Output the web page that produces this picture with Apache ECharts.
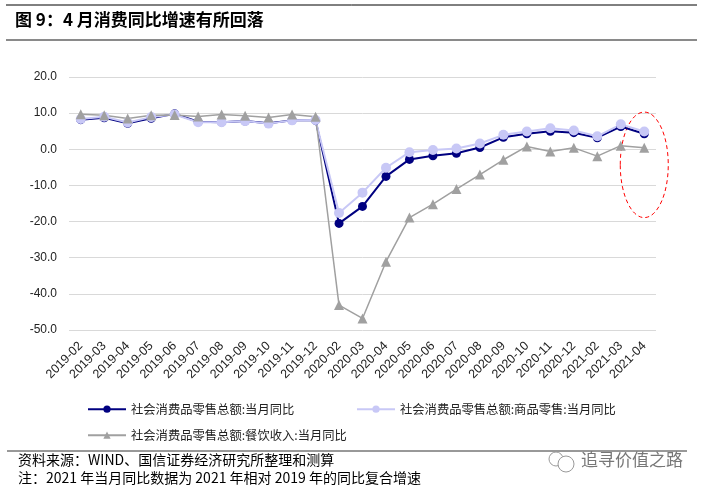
<!DOCTYPE html>
<html>
<head>
<meta charset="utf-8">
<script src="https://cdn.jsdelivr.net/npm/echarts@6/dist/echarts.min.js"></script>
<style>
  html, body { margin: 0; padding: 0; background: #fff; }
  #main { width: 704px; height: 493px; }
</style>
</head>
<body>
<div id="main"></div>
<script>
var months = ['2019-02', '2019-03', '2019-04', '2019-05', '2019-06', '2019-07', '2019-08', '2019-09',
  '2019-10', '2019-11', '2019-12', '2020-02', '2020-03', '2020-04', '2020-05', '2020-06', '2020-07',
  '2020-08', '2020-09', '2020-10', '2020-11', '2020-12', '2021-02', '2021-03', '2021-04'];

// 社会消费品零售总额:当月同比
var totalRetail = [8.2, 8.7, 7.2, 8.6, 9.8, 7.6, 7.5, 7.8, 7.2, 8.0, 8.0,
  -20.5, -15.8, -7.5, -2.8, -1.8, -1.1, 0.5, 3.3, 4.3, 5.0, 4.6, 3.2, 6.3, 4.3];
// 商品零售:当月同比
var goodsRetail = [8.4, 9.0, 7.4, 8.9, 9.6, 7.5, 7.5, 7.8, 7.1, 8.0, 8.1,
  -17.6, -12.0, -5.1, -0.8, -0.2, 0.2, 1.6, 4.0, 4.9, 5.8, 5.2, 3.6, 6.9, 4.9];
// 餐饮收入:当月同比
var catering = [9.7, 9.4, 8.5, 9.4, 9.5, 9.1, 9.6, 9.3, 8.8, 9.6, 9.0,
  -43.1, -46.8, -31.1, -18.9, -15.2, -11.0, -7.0, -2.9, 0.8, -0.6, 0.4, -1.9, 1.0, 0.4];

var seriesNames = ['社会消费品零售总额:当月同比', '社会消费品零售总额:商品零售:当月同比', '社会消费品零售总额:餐饮收入:当月同比'];

var dom = document.getElementById('main');
var myChart = echarts.init(dom, null, { renderer: 'canvas' });

var cjk = '"Noto Sans CJK SC", sans-serif';
var latin = 'Arial, "Liberation Sans", sans-serif';
var legendText = { fontFamily: cjk, fontSize: 12.3, color: '#222' };

var option = {
  animation: false,
  grid: { left: 69, right: 48, top: 77, bottom: 163 },
  xAxis: {
    type: 'category',
    data: months,
    boundaryGap: true,
    axisLine: { show: false },
    axisTick: { show: false },
    axisLabel: { rotate: 45, fontSize: 12.5, color: '#222', fontFamily: latin, margin: 14, interval: 0 }
  },
  yAxis: {
    type: 'value',
    min: -50, max: 20, interval: 10,
    axisLine: { show: false },
    axisTick: { show: false },
    splitLine: { lineStyle: { color: '#d9d9d9', width: 1 } },
    axisLabel: { fontSize: 12, color: '#222', fontFamily: latin, margin: 12,
      formatter: function (v) { return v.toFixed(1); } }
  },
  legend: [
    { left: 82, top: 398, itemWidth: 38, itemHeight: 9, textStyle: legendText, data: [seriesNames[0]] },
    { left: 351, top: 398, itemWidth: 38, itemHeight: 9, textStyle: legendText, data: [seriesNames[1]] },
    { left: 82, top: 424, itemWidth: 38, itemHeight: 9, textStyle: legendText, data: [seriesNames[2]] }
  ],
  series: [
    { name: seriesNames[0], type: 'line', data: totalRetail, symbol: 'circle', symbolSize: 9,
      lineStyle: { color: '#000080', width: 2 }, itemStyle: { color: '#000080' } },
    { name: seriesNames[1], type: 'line', data: goodsRetail, symbol: 'circle', symbolSize: 10,
      lineStyle: { color: '#c8c8f6', width: 2 }, itemStyle: { color: '#c8c8f6' } },
    { name: seriesNames[2], type: 'line', data: catering, symbol: 'triangle', symbolSize: 10,
      lineStyle: { color: '#a0a0a0', width: 1.5 }, itemStyle: { color: '#a0a0a0' } }
  ]
};

myChart.setOption(option);

// frame lines, title, notes and the red dashed ellipse round the latest readings
var ctr = myChart.convertToPixel({ seriesIndex: 0 }, ['2021-04', -4.3]);
var upper = myChart.convertToPixel({ seriesIndex: 0 }, ['2021-04', 10.3]);
var ry = ctr[1] - upper[1];

myChart.setOption({
  graphic: [
    { type: 'line', shape: { x1: 6, y1: 5, x2: 697, y2: 5 }, style: { stroke: '#000', lineWidth: 1 } },
    { type: 'text', left: 15, top: 11,
      style: { text: '图 9：4 月消费同比增速有所回落', font: 'bold 17px ' + cjk, fill: '#000' } },
    { type: 'line', shape: { x1: 6, y1: 40, x2: 697, y2: 40 }, style: { stroke: '#8a8a8a', lineWidth: 2 } },
    { type: 'line', shape: { x1: 7, y1: 451, x2: 687, y2: 451 }, style: { stroke: '#333', lineWidth: 1 } },
    { type: 'text', left: 18, top: 453,
      style: { text: '资料来源：WIND、国信证券经济研究所整理和测算', font: '14px ' + cjk, fill: '#000' } },
    { type: 'text', left: 18, top: 471,
      style: { text: '注：2021 年当月同比数据为 2021 年相对 2019 年的同比复合增速', font: '14px ' + cjk, fill: '#000' } },
    { type: 'circle', shape: { cx: 556, cy: 459, r: 7 }, style: { fill: '#fff', stroke: '#999', lineWidth: 1 } },
    { type: 'circle', shape: { cx: 566, cy: 464, r: 8 }, style: { fill: '#fff', stroke: '#999', lineWidth: 1 } },
    { type: 'text', left: 581, top: 451,
      style: { text: '追寻价值之路', font: '17px ' + cjk, fill: '#777' } },
    { type: 'ellipse', shape: { cx: ctr[0], cy: ctr[1], rx: 24, ry: ry },
      style: { fill: 'none', stroke: '#ff0000', lineWidth: 1, lineDash: [4, 3] } }
  ]
});

window.addEventListener('resize', myChart.resize);
</script>
</body>
</html>
